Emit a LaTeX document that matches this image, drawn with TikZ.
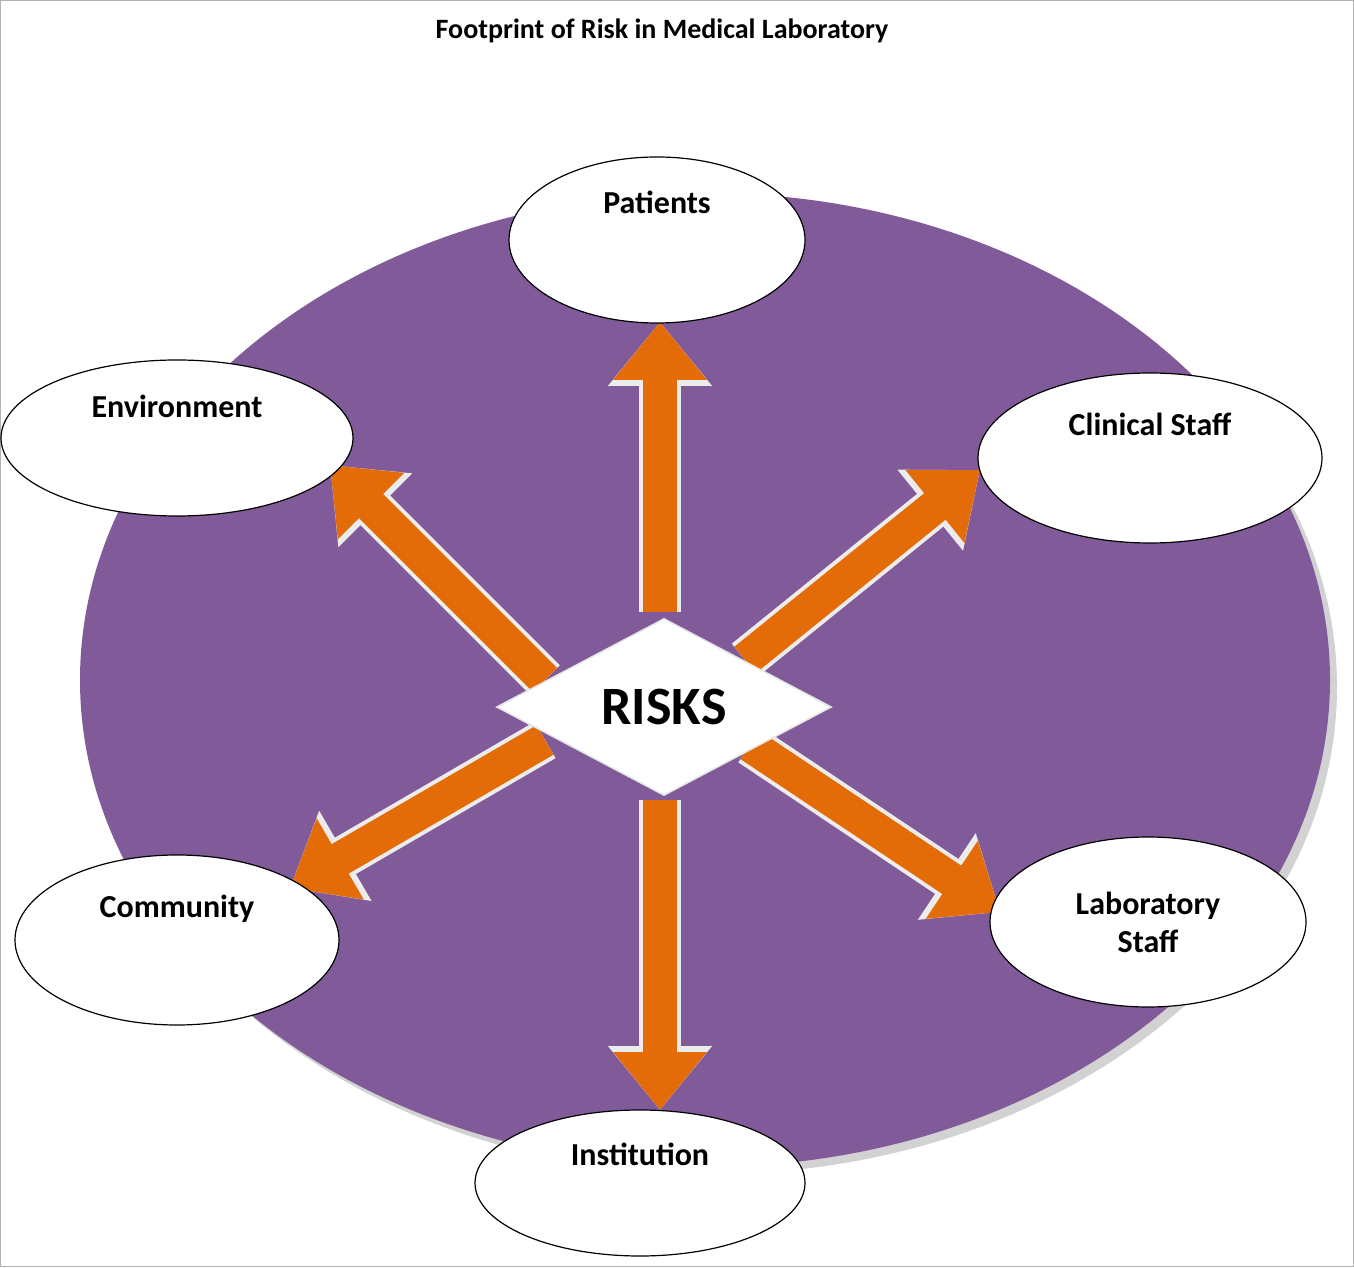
\documentclass[tikz,border=0pt]{standalone}
\usepackage{fontspec}
\setmainfont{Carlito}
\usetikzlibrary{shapes.geometric,arrows.meta}
\definecolor{plum}{RGB}{129,90,154}
\definecolor{riskorange}{RGB}{227,108,9}
\tikzset{every picture/.style={line width=0.75pt}}

\begin{document}
\begin{tikzpicture}[x=1pt,y=1pt,
  target/.style={ellipse,draw=black,line width=1.2pt,fill=white,font=\bfseries\fontsize{32}{38}\selectfont,align=center},
  blockarrow/.style={line width=34pt,draw=riskorange,-{Triangle[length=58pt,width=90pt]},
    preaction={draw=gray!15,line width=42pt,-{Triangle[length=64pt,width=100pt]}}}]
\useasboundingbox (0,0) rectangle (1354,1267);
\fill[white] (0,0) rectangle (1354,1267);
\draw[gray!60,line width=1.5pt] (0.5,0.5) rectangle (1353.5,1266.5);

% title
\node (title) at (662,1236) {\bfseries\fontsize{28}{34}\selectfont Footprint of Risk in Medical Laboratory};

% background disc
\fill[gray!35] (712,580) ellipse [x radius=625, y radius=487];
\fill[plum] (705,587) ellipse [x radius=625, y radius=487];

% arrow end points
\coordinate (upS) at (660,655);   \coordinate (upE) at (660,945);
\coordinate (envS) at (545,587);  \coordinate (envE) at (330,802);
\coordinate (clinS) at (745,607); \coordinate (clinE) at (980,797);
\coordinate (comS) at (545,527);  \coordinate (comE) at (290,379);
\coordinate (labS) at (750,522);  \coordinate (labE) at (1000,355);
\coordinate (instS) at (660,467); \coordinate (instE) at (660,157);

\draw[blockarrow] (upS) -- (upE);
\draw[blockarrow] (envS) -- (envE);
\draw[blockarrow] (clinS) -- (clinE);
\draw[blockarrow] (comS) -- (comE);
\draw[blockarrow] (labS) -- (labE);
\draw[blockarrow] (instS) -- (instE);

% centre
\node[diamond,fill=white,draw=gray!20,line width=1.5pt,minimum width=335pt,minimum height=177pt,inner sep=0pt,
  font=\bfseries\fontsize{54}{60}\selectfont] (risks) at (664,560) {RISKS};

% targets
\node[target,minimum width=296pt,minimum height=166pt] (patients) at (657,1027) {Patients\\[1.2em]};
\node[target,minimum width=352pt,minimum height=156pt] (environment) at (177,829) {Environment\\[0.8em]};
\node[target,minimum width=344pt,minimum height=170pt] (clinical) at (1150,809) {Clinical Staff\\[0.9em]};
\node[target,minimum width=324pt,minimum height=170pt] (community) at (177,327) {Community\\[0.9em]};
\node[target,minimum width=316pt,minimum height=170pt] (labstaff) at (1148,345) {Laboratory\\Staff};
\node[target,minimum width=330pt,minimum height=146pt] (institution) at (640,84) {Institution\\[0.6em]};
\end{tikzpicture}
\end{document}
